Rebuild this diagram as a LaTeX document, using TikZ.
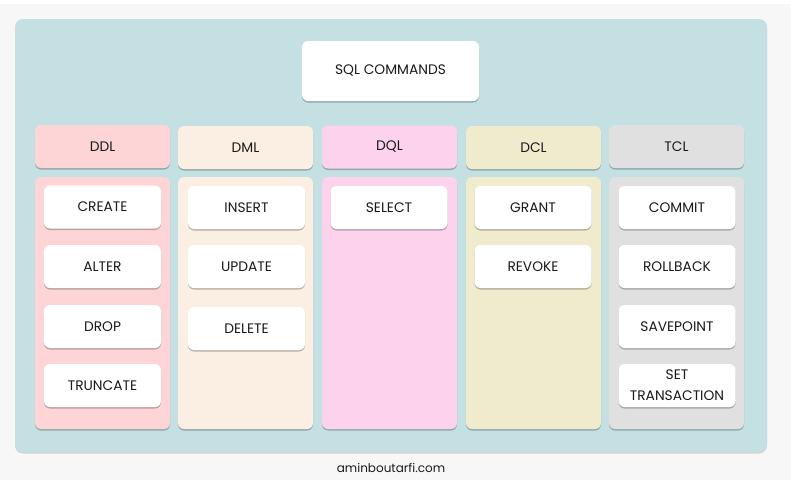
\documentclass[tikz,border=0pt]{standalone}
\usepackage{fontspec}
\setmainfont{Poppins}
\usetikzlibrary{shadows}
\definecolor{bgc}{HTML}{F7F7F7}
\definecolor{panel}{HTML}{C4E0E3}
\definecolor{ddlc}{HTML}{FDD5D6}
\definecolor{dmlc}{HTML}{FBEEE2}
\definecolor{dqlc}{HTML}{FCD2EC}
\definecolor{dclc}{HTML}{F1EBCD}
\definecolor{tclc}{HTML}{E0E0E0}
\definecolor{txt}{HTML}{1A1A1A}
\tikzset{
  card/.style={rounded corners=6pt, inner sep=0pt, text=txt, align=center,
    font=\fontsize{13.8}{21}\selectfont,
    drop shadow={shadow xshift=0pt, shadow yshift=-1.5pt, fill=black, opacity=0.25}},
  itembox/.style={card, fill=white, minimum width=117pt, minimum height=43pt},
  headbox/.style={card, minimum width=135pt, minimum height=43pt},
  colbox/.style={card, minimum width=135pt, minimum height=252pt},
}
\begin{document}
\begin{tikzpicture}[x=1pt,y=-1pt]
\useasboundingbox (0,0) rectangle (800,480);
\fill[white] (0,0) rectangle (800,480);
\fill[bgc] (0,4) rectangle (791,480);
\node[rounded corners=8pt, fill=panel, minimum width=752pt, minimum height=433pt, inner sep=0pt,
  drop shadow={shadow xshift=0pt, shadow yshift=-1.5pt, fill=black, opacity=0.15}] (panel) at (391,235.5) {};
\node[card, fill=white, minimum width=177pt, minimum height=60pt] (sql) at (390.5,71) {SQL COMMANDS};
% columns
\node[colbox, fill=ddlc] (cddl) at (102.5,303) {};
\node[colbox, fill=dmlc] (cdml) at (245.5,303) {};
\node[colbox, fill=dqlc] (cdql) at (389.5,303) {};
\node[colbox, fill=dclc] (cdcl) at (533.5,303) {};
\node[colbox, fill=tclc] (ctcl) at (676.5,303) {};
% headers
\node[headbox, fill=ddlc] (ddl) at (102.5,146.5) {DDL};
\node[headbox, fill=dmlc] (dml) at (245.5,147.5) {DML};
\node[headbox, fill=dqlc] (dql) at (389.5,147) {DQL};
\node[headbox, fill=dclc] (dcl) at (533.5,147.5) {DCL};
\node[headbox, fill=tclc] (tcl) at (676.5,146.5) {TCL};
% DDL items
\node[itembox] (create) at (102.5,207) {CREATE};
\node[itembox] (alter) at (102.5,266.5) {ALTER};
\node[itembox] (drop) at (102.5,326.5) {DROP};
\node[itembox] (truncate) at (102.5,385.5) {TRUNCATE};
% DML items
\node[itembox] (insert) at (246.5,207.5) {INSERT};
\node[itembox] (update) at (246.5,266.5) {UPDATE};
\node[itembox] (delete) at (246.5,328.5) {DELETE};
% DQL
\node[itembox] (select) at (389,207.5) {SELECT};
% DCL
\node[itembox] (grant) at (533,207.5) {GRANT};
\node[itembox] (revoke) at (533,266.5) {REVOKE};
% TCL
\node[itembox] (commit) at (677,207.5) {COMMIT};
\node[itembox] (rollback) at (677,266.5) {ROLLBACK};
\node[itembox] (savepoint) at (677,326.5) {SAVEPOINT};
\node[itembox] (settrans) at (677,385.5) {SET\\TRANSACTION};
% footer
\node[text=txt, font=\fontsize{12}{14}\selectfont, inner sep=0pt] (footer) at (391,468) {aminboutarfi.com};
\end{tikzpicture}
\end{document}
